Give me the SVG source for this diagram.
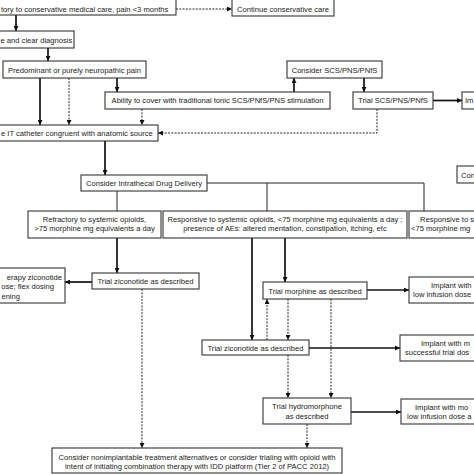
<svg xmlns="http://www.w3.org/2000/svg" width="474" height="474" viewBox="0 0 474 474">
<defs>
<style>
.box{fill:#fff;stroke:#333;stroke-width:1.1}
.t{font-family:"Liberation Sans",Arial,sans-serif;font-size:7.6px;fill:#222}
.m{text-anchor:middle}
.e{text-anchor:end}
.s{fill:none;stroke:#111;stroke-width:1.7}
.thin{fill:none;stroke:#222;stroke-width:1}
.d{fill:none;stroke:#222;stroke-width:1;stroke-dasharray:2 1.3}
</style>
<marker id="a" viewBox="0 0 10 10" refX="10" refY="5" markerWidth="6" markerHeight="5" markerUnits="userSpaceOnUse" orient="auto">
<path d="M0,0 L10,5 L0,10 z" fill="#111"/>
</marker>
</defs>
<rect width="474" height="474" fill="#fff"/>
<g id="connectors">
<path class="d" d="M176,9 H232" marker-end="url(#a)"/>
<path class="s" d="M16,15 V31" marker-end="url(#a)"/>
<path class="s" d="M48,48 V61" marker-end="url(#a)"/>
<path class="s" d="M40,78 V125" marker-end="url(#a)"/>
<path class="d" d="M69,78 V125" marker-end="url(#a)"/>
<path class="s" d="M117,78 V92" marker-end="url(#a)"/>
<path class="d" d="M142,109 V125" marker-end="url(#a)"/>
<path class="s" d="M294,92 V78" marker-end="url(#a)"/>
<path class="s" d="M364,78 V92" marker-end="url(#a)"/>
<path class="s" d="M433,100.5 H462" marker-end="url(#a)"/>
<path class="d" d="M377,109 V133 H158" marker-end="url(#a)"/>
<path class="s" d="M105,141 V175" marker-end="url(#a)"/>
<path class="thin" d="M117,191 V211 M207,183 H424 V211 M267,183 V211"/>
<path class="s" d="M117,238 V273" marker-end="url(#a)"/>
<path class="s" d="M92,282 H65" marker-end="url(#a)"/>
<path class="d" d="M142,289 V448" marker-end="url(#a)"/>
<path class="s" d="M252,238 V340" marker-end="url(#a)"/>
<path class="s" d="M285,238 V282" marker-end="url(#a)"/>
<path class="s" d="M367,290 H409" marker-end="url(#a)"/>
<path class="d" d="M267,340 V299" marker-end="url(#a)"/>
<path class="d" d="M288,299 V340" marker-end="url(#a)"/>
<path class="d" d="M331,299 V398" marker-end="url(#a)"/>
<path class="s" d="M309,348 H400" marker-end="url(#a)"/>
<path class="d" d="M288,355 V398" marker-end="url(#a)"/>
<path class="s" d="M351,412 H401" marker-end="url(#a)"/>
<path class="d" d="M307,424 V448" marker-end="url(#a)"/>
</g>
<g id="n1"><rect class="box" x="-5" y="-3" width="181" height="18"/><text class="t" x="1" y="12">tory to conservative medical care, pain &lt;3 months</text></g>
<g id="n2"><rect class="box" x="232" y="-3" width="102" height="19"/><text class="t m" x="283" y="12">Continue conservative care</text></g>
<g id="n3"><rect class="box" x="-5" y="31" width="79" height="17"/><text class="t" x="0.5" y="42.5">e and clear diagnosis</text></g>
<g id="n4"><rect class="box" x="3" y="61" width="143" height="17"/><text class="t m" x="74.5" y="72.5">Predominant or purely neuropathic pain</text></g>
<g id="n5"><rect class="box" x="105" y="92" width="225" height="17"/><text class="t m" x="217.5" y="103">Ability to cover with traditional tonic SCS/PNfS/PNS stimulation</text></g>
<g id="n6"><rect class="box" x="287" y="61" width="95" height="17"/><text class="t m" x="334.5" y="72.5">Consider SCS/PNS/PNfS</text></g>
<g id="n7"><rect class="box" x="353" y="92" width="80" height="17"/><text class="t m" x="393" y="103">Trial SCS/PNS/PNfS</text></g>
<g id="n8"><rect class="box" x="462" y="92" width="20" height="17"/><text class="t" x="465" y="103">Im</text></g>
<g id="n9"><rect class="box" x="-5" y="125" width="163" height="16"/><text class="t" x="1" y="136">e IT catheter congruent with anatomic source</text></g>
<g id="n10"><rect class="box" x="81" y="175" width="126" height="16"/><text class="t m" x="144" y="186">Consider Intrathecal Drug Delivery</text></g>
<g id="n11"><rect class="box" x="457" y="166" width="25" height="17"/><text class="t" x="461" y="177.5">Con</text></g>
<g id="n12"><rect class="box" x="28" y="211" width="133" height="27"/><text class="t m" x="94.5" y="222">Refractory to systemic opioids,</text><text class="t m" x="94.5" y="231">&gt;75 morphine mg equivalents a day</text></g>
<g id="n13"><rect class="box" x="163" y="211" width="244" height="27"/><text class="t m" x="285" y="222">Responsive to systemic opioids, &lt;75 morphine mg equivalents a day ;</text><text class="t m" x="285" y="231">presence of AEs: altered mentation, constipation, itching, etc</text></g>
<g id="n14"><rect class="box" x="409" y="211" width="70" height="27"/><text class="t" x="420" y="222">Responsive to s</text><text class="t" x="411" y="231">&lt;75 morphine mg</text></g>
<g id="n15"><rect class="box" x="92" y="273" width="107" height="16"/><text class="t m" x="145.5" y="284">Trial ziconotide as described</text></g>
<g id="n16"><rect class="box" x="-5" y="268" width="70" height="35"/><text class="t e" x="62" y="280">erapy ziconotide</text><text class="t e" x="54" y="289">ose; flex dosing</text><text class="t e" x="20" y="299">ening</text></g>
<g id="n17"><rect class="box" x="263" y="282" width="104" height="17"/><text class="t m" x="315" y="293.5">Trial morphine as described</text></g>
<g id="n18"><rect class="box" x="409" y="277" width="70" height="26"/><text class="t" x="431" y="288">Implant with</text><text class="t" x="413" y="297">low infusion dose</text></g>
<g id="n19"><rect class="box" x="202" y="340" width="107" height="15"/><text class="t m" x="255.5" y="350.5">Trial ziconotide as described</text></g>
<g id="n20"><rect class="box" x="400" y="335" width="80" height="26"/><text class="t" x="421" y="346">Implant with m</text><text class="t" x="405" y="355">successful trial dos</text></g>
<g id="n21"><rect class="box" x="263" y="398" width="88" height="26"/><text class="t m" x="307" y="409">Trial hydromorphone</text><text class="t m" x="307" y="419">as described</text></g>
<g id="n22"><rect class="box" x="401" y="399" width="80" height="25"/><text class="t" x="415" y="410">Implant with mo</text><text class="t" x="407" y="419">low infusion dose a</text></g>
<g id="n23"><rect class="box" x="52" y="448" width="290" height="25"/><text class="t m" x="197" y="460">Consider nonimplantable treatment alternatives or consider trialing with opioid with</text><text class="t m" x="197" y="469">intent of initiating combination therapy with IDD platform (Tier 2 of PACC 2012)</text></g>
</svg>
